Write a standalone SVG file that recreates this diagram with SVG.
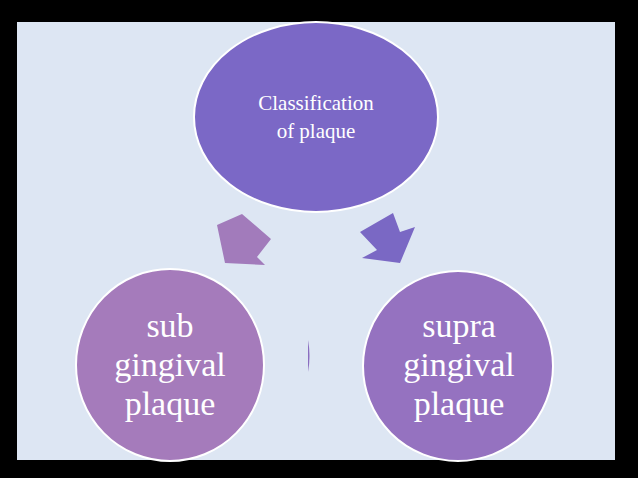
<svg xmlns="http://www.w3.org/2000/svg" width="638" height="478" viewBox="0 0 638 478">
<style>
.n{stroke:#fff;stroke-width:2}
.t{fill:#fff;font-family:"Liberation Serif","DejaVu Serif",serif;text-anchor:middle}
</style>
<rect width="638" height="478" fill="#000"/>
<rect x="17" y="22" width="598" height="438" fill="#dde6f3"/>
<g id="connectors">
<polygon points="242,214 271,239 257,257 265,265 225,263 217,225" fill="#a27bbb"/>
<polygon points="393,213 400,232 415,227 400,263 362,258 377,250 360,232" fill="#7a68c4"/>
<path d="M308,340 Q311,356 308,372 Z" fill="#8a6dc0"/>
</g>
<g id="top">
<ellipse class="n" cx="316" cy="117" rx="122" ry="95" fill="#7b68c6"/>
<text class="t" x="316" y="110" font-size="21">Classification</text>
<text class="t" x="316" y="138" font-size="21">of plaque</text>
</g>
<g id="sub">
<ellipse class="n" cx="170" cy="365" rx="94" ry="96" fill="#a57bbb"/>
<text class="t" x="170" y="337" font-size="34">sub</text>
<text class="t" x="170" y="376" font-size="34">gingival</text>
<text class="t" x="170" y="415" font-size="34">plaque</text>
</g>
<g id="supra">
<ellipse class="n" cx="458" cy="366" rx="95" ry="95" fill="#9572c0"/>
<text class="t" x="459" y="337" font-size="34">supra</text>
<text class="t" x="459" y="376" font-size="34">gingival</text>
<text class="t" x="459" y="415" font-size="34">plaque</text>
</g>
</svg>
